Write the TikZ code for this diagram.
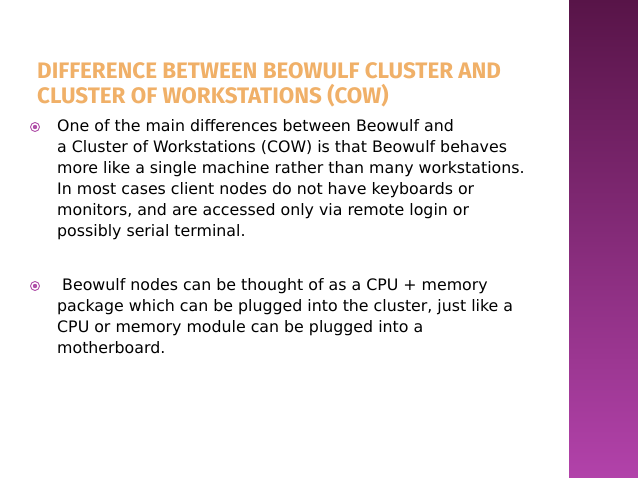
\documentclass[tikz,border=0pt]{standalone}
\usepackage{fontspec}
\setmainfont{DejaVu Sans}
\newfontfamily\titlefont{Fira Sans}
\usetikzlibrary{shadings}
\definecolor{ttl}{HTML}{F0B068}
\definecolor{bul}{HTML}{B04FA8}
\tikzset{line/.style={anchor=base west,inner sep=0pt,font=\fontsize{15.8pt}{18pt}\selectfont,text=black},
ttlline/.style={anchor=base west,inner sep=0pt,text=ttl,font=\titlefont\fontsize{22.4pt}{26pt}\selectfont\bfseries},
bullet/.style={circle,draw=bul,line width=0.9pt,minimum size=9pt,inner sep=0pt}}
\begin{document}
\begin{tikzpicture}[x=1pt,y=-1pt]
\useasboundingbox (0,0) rectangle (638,478);
\fill[white] (0,0) rectangle (638,478);
\shade[top color={rgb,255:red,88;green,20;blue,72},bottom color={rgb,255:red,178;green,66;blue,170}] (569,0) rectangle (638,478);
\node[ttlline] (t1) at (37,79) {DIFFERENCE BETWEEN BEOWULF CLUSTER AND};
\node[ttlline] (t2) at (37,104) {CLUSTER OF WORKSTATIONS (COW)};
\node[bullet] (b1) at (35,127) {};
\fill[bul] (b1) circle (2.2pt);
\node[line] (l1) at (57,132) {One of the main differences between Beowulf and};
\node[line] (l2) at (57,153) {a Cluster of Workstations (COW) is that Beowulf behaves};
\node[line] (l3) at (57,174) {more like a single machine rather than many workstations.};
\node[line] (l4) at (57,195) {In most cases client nodes do not have keyboards or};
\node[line] (l5) at (57,216) {monitors, and are accessed only via remote login or};
\node[line] (l6) at (57,237) {possibly serial terminal.};
\node[bullet] (b2) at (35,286) {};
\fill[bul] (b2) circle (2.2pt);
\node[line] (m1) at (57,291) {\ Beowulf nodes can be thought of as a CPU + memory};
\node[line] (m2) at (57,312) {package which can be plugged into the cluster, just like a};
\node[line] (m3) at (57,333) {CPU or memory module can be plugged into a};
\node[line] (m4) at (57,354) {motherboard.};
\end{tikzpicture}
\end{document}
